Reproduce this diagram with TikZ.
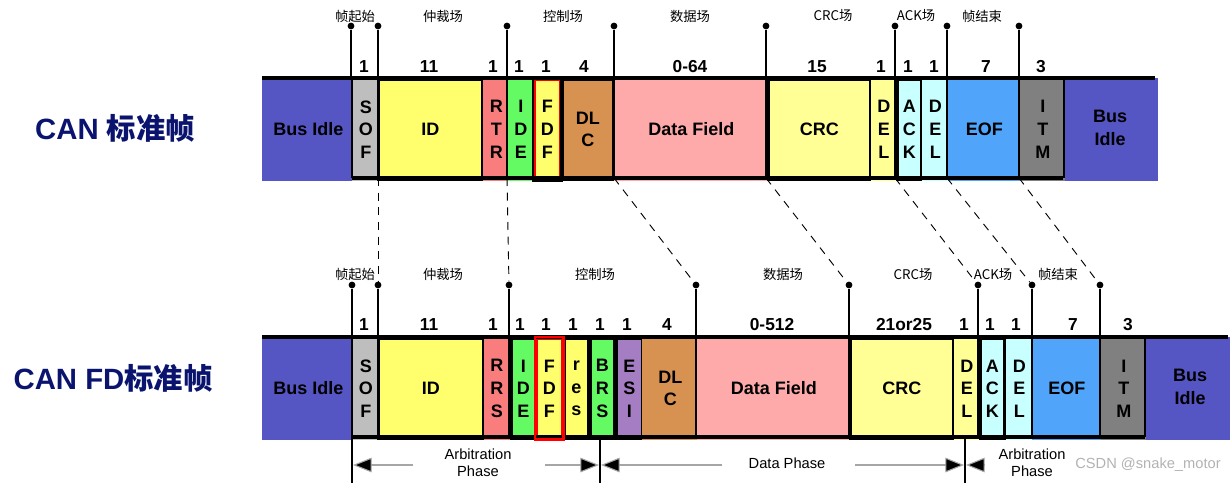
\documentclass[tikz,border=0pt]{standalone}
\usepackage{fontspec}
\setmainfont{Liberation Sans}
\newfontfamily\cjk{Noto Sans CJK SC}
\usetikzlibrary{arrows.meta}
\definecolor{idle}{RGB}{85,85,195}
\definecolor{sofc}{RGB}{190,190,190}
\definecolor{idc}{RGB}{255,255,110}
\definecolor{rtrc}{RGB}{250,125,125}
\definecolor{idec}{RGB}{100,250,100}
\definecolor{dlcc}{RGB}{215,145,80}
\definecolor{datac}{RGB}{255,170,170}
\definecolor{crcc}{RGB}{255,255,150}
\definecolor{ackc}{RGB}{200,255,255}
\definecolor{eofc}{RGB}{80,165,250}
\definecolor{itmc}{RGB}{128,128,128}
\definecolor{esic}{RGB}{165,125,195}
\definecolor{navy}{RGB}{10,20,110}
\newcommand\fld[7]{% name x1 x2 ytop fill draw text
 \pgfmathsetmacro\fw{(#3-#2)*0.75}
 \node[fld,fill=#5,draw=#6,minimum width=\fw pt,anchor=north west] (#1) at (#2,#4) {#7};}
\tikzset{x=0.75pt,y=-0.75pt,
 fld/.style={minimum height=75pt,inner sep=0pt,line width=2.2pt,font=\bfseries\fontsize{13.5}{17}\selectfont,align=center},
 cn/.style={font=\cjk\fontsize{10}{11}\selectfont},
 num/.style={font=\bfseries\fontsize{13}{14}\selectfont},
 pin/.style={circle,fill=black,inner sep=1.8pt},
 dsh/.style={dash pattern=on 6pt off 5pt,line width=0.7pt},
 ph/.style={font=\fontsize{11}{13}\selectfont,align=center},
 arr/.style={draw=gray!70,line width=0.8pt,-{Triangle[length=14pt,width=11pt,fill=black]}}}
\begin{document}
\begin{tikzpicture}
\useasboundingbox (0,0) rectangle (1230,483);
% ---------- top frame
\fld{ti1}{262}{352}{78}{idle}{idle}{Bus Idle}
\fld{tsof}{352}{377}{78}{sofc}{sofc}{S\\O\\F}
\fld{tid}{377}{481}{78}{idc}{black}{ID}
\fld{trtr}{483}{507}{78}{rtrc}{rtrc}{R\\T\\R}
\fld{tide}{507}{532}{78}{idec}{idec}{I\\D\\E}
\fld{tfdf}{533}{559}{78}{idc}{red}{F\\D\\F}
\fld{tdlc}{561}{612}{78}{dlcc}{black}{DL\\C}
\fld{tdata}{614}{766}{78}{datac}{datac}{Data Field}
\fld{tcrc}{767}{869}{78}{crcc}{black}{CRC}
\fld{tdel}{871}{894}{78}{crcc}{crcc}{D\\E\\L}
\fld{tack}{896}{920}{78}{ackc}{black}{A\\C\\K}
\fld{tdel2}{922}{946}{78}{ackc}{ackc}{D\\E\\L}
\fld{teof}{948}{1018}{78}{eofc}{eofc}{EOF}
\fld{titm}{1020}{1063}{78}{itmc}{itmc}{I\\T\\M}
\fld{ti2}{1065}{1155}{78}{idle}{idle}{Bus\\Idle}
\draw[line width=2.5pt] (262,78) -- (1155,78);
\draw[line width=2.5pt] (352,178) -- (1063,178);
\foreach \x in {352,378,507,614,766,895,947,1019,1064} \draw[line width=2pt] (\x,78) -- (\x,178);
\fill[idle] (1065,80) rectangle (1155,178);
\node[font=\bfseries\fontsize{13.5}{17}\selectfont,align=center] at (1110,128) {Bus\\Idle};
\draw[line width=2.2pt] (tfdf.north west) rectangle (tfdf.south east);
% top pins
\foreach \x/\n in {351/a,378/b,507/c,614/d,766/e,895/f,947/g,1019/h}{
 \node[pin] (tp\n) at (\x,26) {};
 \draw[line width=1.2pt] (tp\n) -- (\x,78);}
\foreach \x/\t in {355/帧起始,443/仲裁场,563/控制场,690/数据场,833/CRC场,916/ACK场,982/帧结束}
 \node[cn] at (\x,16) {\t};
\foreach \x/\t in {364/1,429/11,493/1,519/1,546/1,584/4,690/0-64,817/15,881/1,908/1,934/1,986/7,1041/3}
 \node[num] at (\x,67) {\t};
\node[text=navy,font=\bfseries\fontsize{22}{24}\selectfont] at (115,128) {CAN {\cjk 标准帧}};
% ---------- bottom frame
\fld{bi1}{262}{352}{337}{idle}{idle}{Bus Idle}
\fld{bsof}{352}{377}{337}{sofc}{sofc}{S\\O\\F}
\fld{bid}{377}{482}{337}{idc}{black}{ID}
\fld{brrs}{484}{507}{337}{rtrc}{rtrc}{R\\R\\S}
\fld{bide}{510}{534}{337}{idec}{black}{I\\D\\E}
\fld{bfdf}{535}{561}{337}{idc}{red}{F\\D\\F}
\fld{bres}{563}{587}{337}{idc}{black}{r\\e\\s}
\fld{bbrs}{589}{613}{337}{idec}{black}{B\\R\\S}
\fld{besi}{615}{641}{337}{esic}{black}{E\\S\\I}
\fld{bdlc}{642}{696}{337}{dlcc}{dlcc}{DL\\C}
\fld{bdata}{697}{848}{337}{datac}{datac}{Data Field}
\fld{bcrc}{849}{952}{337}{crcc}{black}{CRC}
\fld{bdel}{954}{977}{337}{crcc}{crcc}{D\\E\\L}
\fld{back}{979}{1003}{337}{ackc}{black}{A\\C\\K}
\fld{bdel2}{1006}{1030}{337}{ackc}{ackc}{D\\E\\L}
\fld{beof}{1032}{1099}{337}{eofc}{eofc}{EOF}
\fld{bitm}{1101}{1144}{337}{itmc}{itmc}{I\\T\\M}
\fld{bi2}{1146}{1228}{337}{idle}{idle}{Bus\\Idle}
\draw[line width=2.5pt] (262,337) -- (1228,337);
\draw[line width=2.5pt] (352,437) -- (1145,437);
\foreach \x in {352,378,509,696,849,978,1032,1100,1145} \draw[line width=2pt] (\x,337) -- (\x,437);
\fill[idle] (1146,339) rectangle (1228,437);
\node[font=\bfseries\fontsize{13.5}{17}\selectfont,align=center] at (1190,387) {Bus\\Idle};
\fill[white] (535,438) rectangle (561,440);
\draw[red,line width=2.2pt] (bfdf.north west) rectangle (bfdf.south east);
\foreach \x/\n in {352/a,378/b,509/c,696/d,849/e,978/f,1032/g,1100/h}{
 \node[pin] (bp\n) at (\x,285) {};
 \draw[line width=1.2pt] (bp\n) -- (\x,337);}
\foreach \x/\t in {355/帧起始,443/仲裁场,595/控制场,783/数据场,913/CRC场,993/ACK场,1058/帧结束}
 \node[cn] at (\x,274) {\t};
\foreach \x/\t in {364/1,429/11,493/1,520/1,546/1,573/1,600/1,627/1,667/4,772/0-512,904/21or25,964/1,990/1,1016/1,1073/7,1128/3}
 \node[num] at (\x,325) {\t};
\node[text=navy,font=\bfseries\fontsize{22}{24}\selectfont] at (113,378) {CAN FD{\cjk 标准帧}};
% dashed links
\draw[dsh] (378,178) -- (bpb);
\draw[dsh] (507,178) -- (bpc);
\foreach \x/\n in {614/d,766/e,895/f,947/g,1019/h} \draw[dsh] (\x,178) -- (bp\n);
% phases
\coordinate (v1) at (352,483); \coordinate (v2) at (600,483); \coordinate (v3) at (965,483);
\draw[line width=1.2pt] (352,437) -- (v1);
\draw[line width=1.2pt] (600,437) -- (v2);
\draw[line width=1.2pt] (965,437) -- (v3);
\draw[arr] (413,465) -- (353,465);
\draw[arr] (545,465) -- (599,465);
\draw[arr] (722,465) -- (601,465);
\draw[arr] (855,465) -- (964,465);
\draw[arr] (985,465) -- (966,465);
\node[ph] at (478,463) {Arbitration\\Phase};
\node[ph] at (787,463) {Data Phase};
\node[ph] at (1032,463) {Arbitration\\Phase};
\node[font=\fontsize{11}{13}\selectfont,text=gray!60] at (1148,465) {CSDN @snake\_motor};
\end{tikzpicture}
\end{document}
